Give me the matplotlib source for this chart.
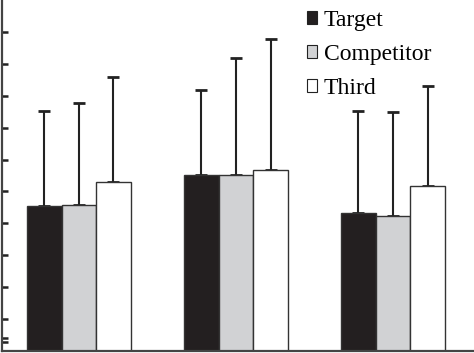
import matplotlib
matplotlib.use("Agg")
import matplotlib.pyplot as plt
import numpy as np

groups = [0, 1, 2]
series = ["Target", "Competitor", "Third"]
target = [4.53, 5.52, 4.33]
competitor = [4.58, 5.52, 4.23]
third = [5.30, 5.66, 5.18]
target_err = [3.00, 2.66, 3.20]
competitor_err = [3.19, 3.66, 3.25]
third_err = [3.30, 4.12, 3.13]
yticks = [0.27, 0.4, 1, 2, 3, 4, 5, 6, 7, 8, 9, 10]

colors = ["#231f20", "#d1d2d4", "#ffffff"]
edge = "#333333"

W, H = 474, 353
fig = plt.figure(figsize=(W / 100, H / 100), dpi=100)
ax = fig.add_axes([2 / W, 2 / H, (W - 2) / W, (H - 2) / H])

vals = [target, competitor, third]
errs = [target_err, competitor_err, third_err]
bw = 0.22
x = np.array(groups, dtype=float)
for i, (v, e, c, name) in enumerate(zip(vals, errs, colors, series)):
    xs = x + (i - 1) * bw
    ax.bar(xs, v, width=bw, color=c, edgecolor=edge, linewidth=1.0, label=name, zorder=2)
    ax.errorbar(xs, v, yerr=[np.zeros(len(e)), e], fmt="none", ecolor="#222222",
                elinewidth=1.5, capsize=4.3, capthick=2.0, zorder=1)

ax.set_xlim(-0.49, 2.516)
ax.set_ylim(0, 11.0)
ax.set_yticks(yticks)
ax.set_yticklabels([])
ax.set_xticks([])
ax.tick_params(axis="y", direction="in", length=4, width=1.8, color="#222222")
for s in ["top", "right"]:
    ax.spines[s].set_visible(False)
ax.spines["left"].set_linewidth(1.6)
ax.spines["left"].set_color("#444444")
ax.spines["bottom"].set_linewidth(1.6)
ax.spines["bottom"].set_color("#444444")

leg = ax.legend(loc="upper left", bbox_to_anchor=(307 / W, 1 - 10 / H),
                bbox_transform=fig.transFigure, frameon=False,
                prop={"family": "Liberation Serif", "size": 17},
                handlelength=0.44, handleheight=0.44, handletextpad=0.28,
                labelspacing=0.55, borderpad=0, borderaxespad=0)
for p in leg.get_patches():
    p.set_edgecolor("#222222")
    p.set_linewidth(0.8)

fig.savefig("out.png", dpi=100)
